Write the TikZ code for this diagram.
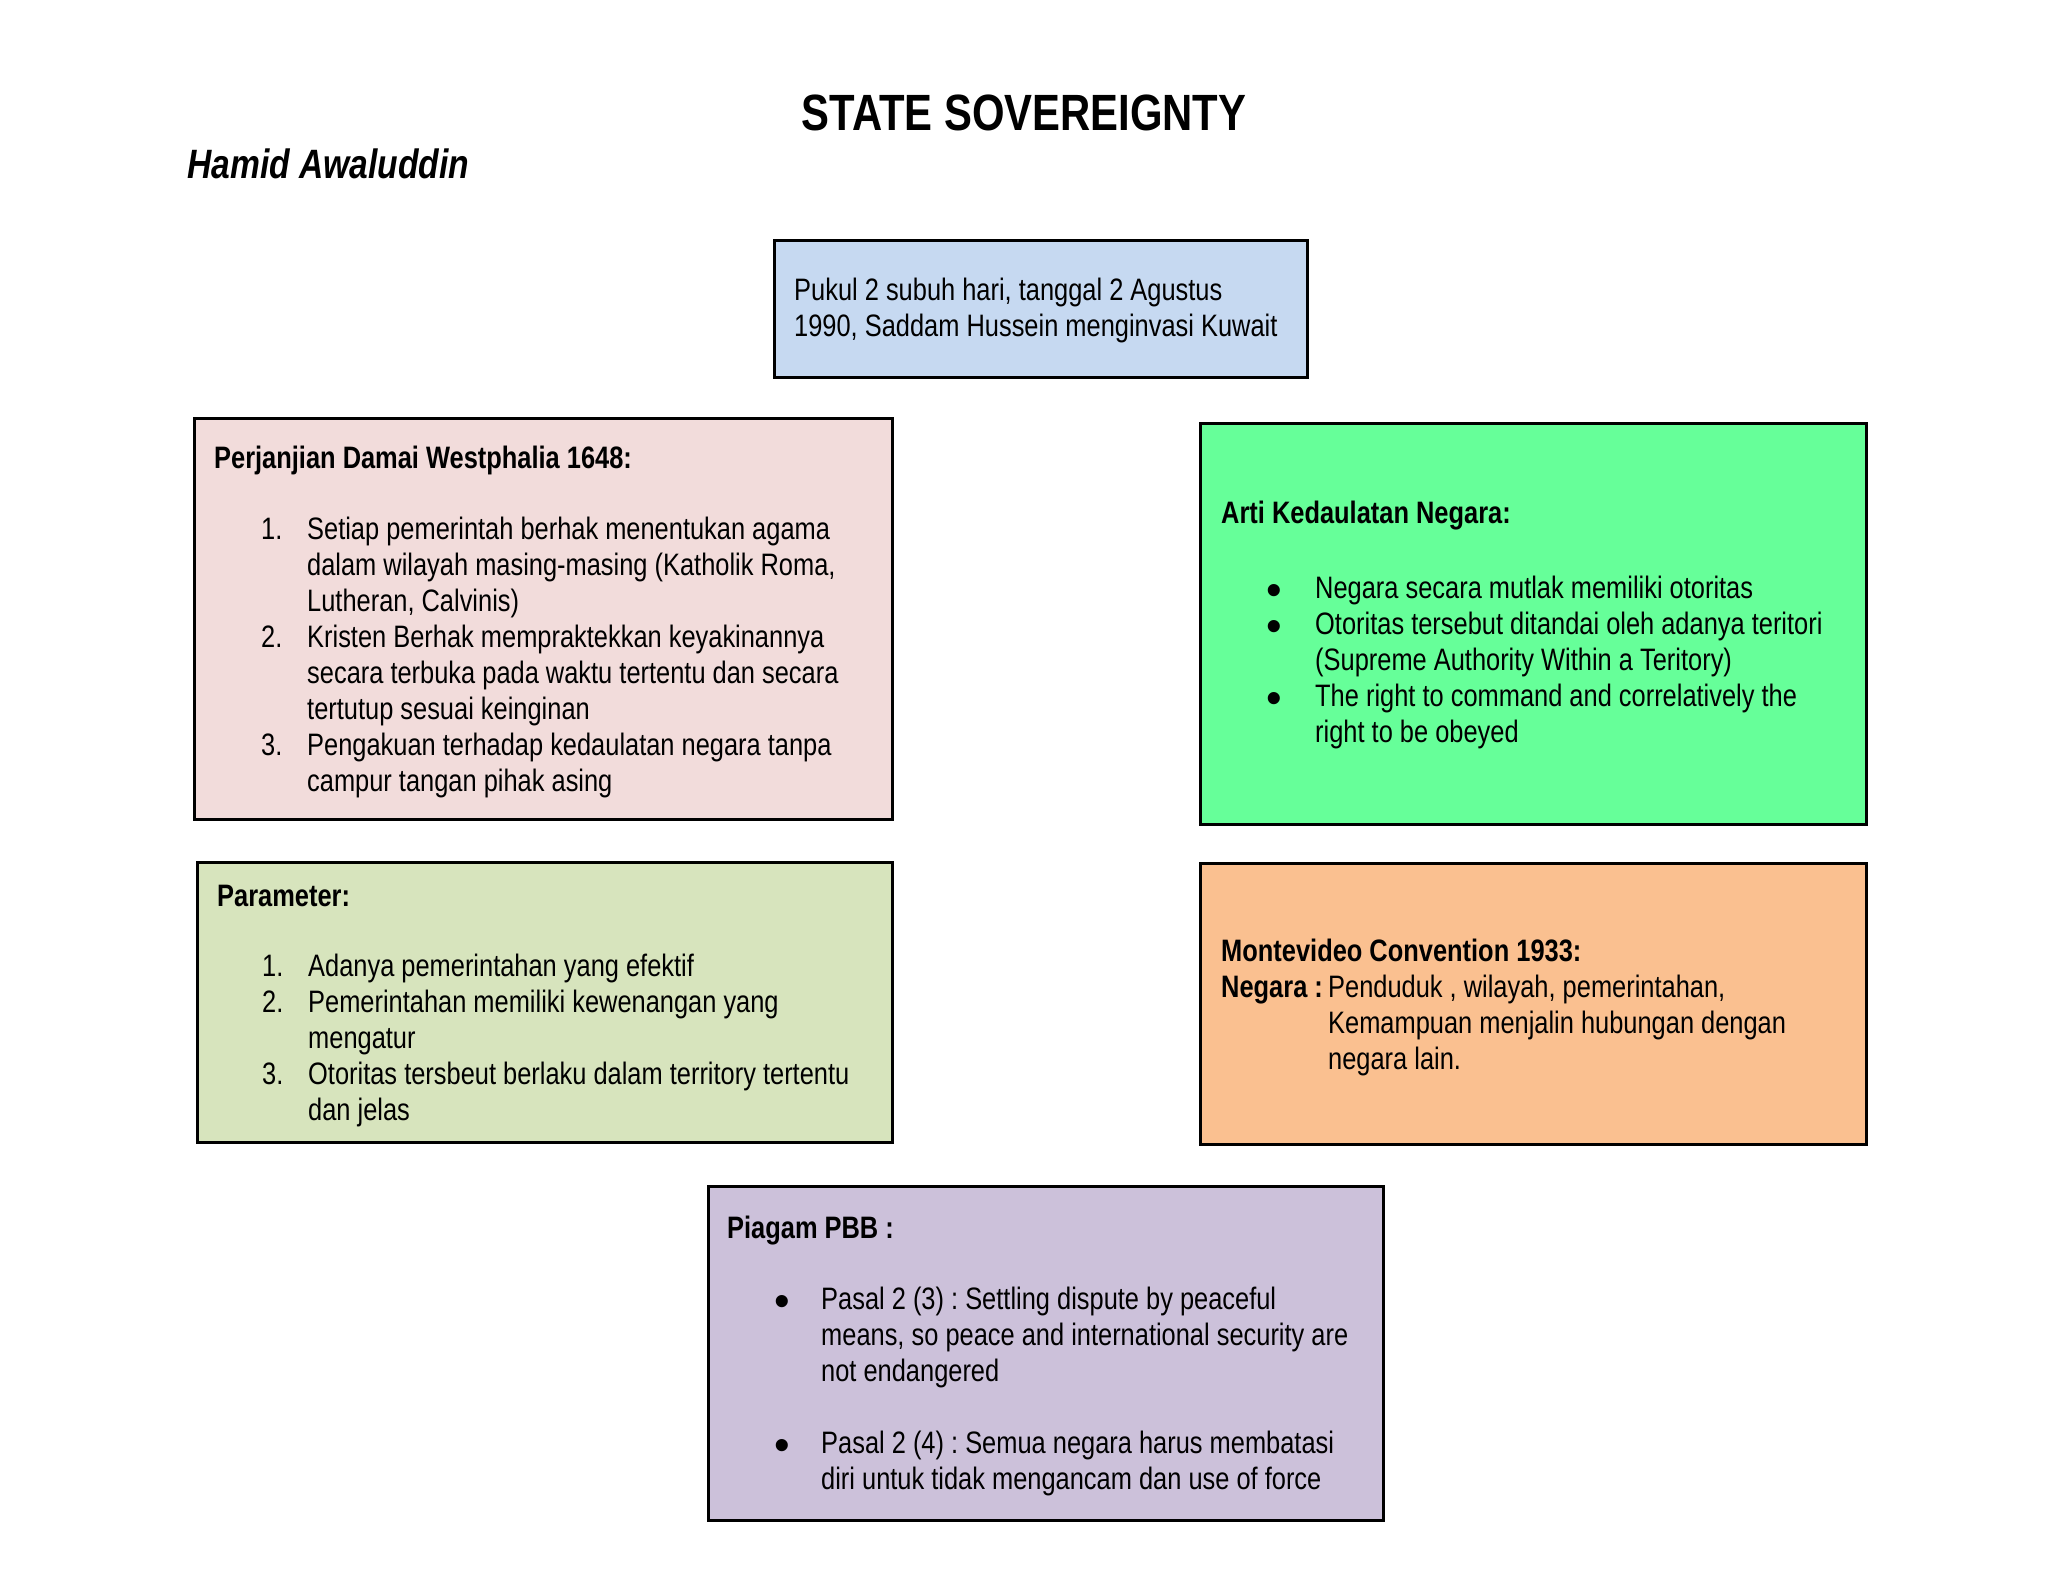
\documentclass[tikz,border=0pt]{standalone}
\usepackage{fontspec}
\usepackage{graphicx}
\setmainfont{Liberation Sans}[FakeStretch=0.82]
\definecolor{cblue}{HTML}{C6D9F1}
\definecolor{cpink}{HTML}{F2DCDB}
\definecolor{cgreen}{HTML}{66FF99}
\definecolor{colive}{HTML}{D7E4BD}
\definecolor{corange}{HTML}{FAC090}
\definecolor{cpurple}{HTML}{CCC1DA}
\newcommand{\mybullet}{\raisebox{-7.5pt}{\scalebox{1.75}[1.45]{\textbullet}}}
\begin{document}
\begin{tikzpicture}[x=1pt,y=-1pt,
  box/.style={draw=black, line width=2.5pt, inner sep=0pt, anchor=north west},
  txt/.style={anchor=base west, inner sep=0pt, font=\fontsize{31}{36}\selectfont\frenchspacing}]
\useasboundingbox[fill=white] (0,0) rectangle (2048,1582);

\node[anchor=base, inner sep=0pt, font=\fontsize{51}{60}\selectfont\bfseries] (title) at (1024,130) {STATE SOVEREIGNTY};
\node[anchor=base west, inner sep=0pt, font=\fontsize{41}{48}\selectfont\bfseries\itshape] (author) at (187,178) {Hamid Awaluddin};

% boxes
\node[box, fill=cblue, minimum width=533pt, minimum height=137pt] (event) at (773,239) {};
\node[box, fill=cpink, minimum width=698pt, minimum height=401pt] (west) at (193,417) {};
\node[box, fill=cgreen, minimum width=666pt, minimum height=401pt] (arti) at (1199,422) {};
\node[box, fill=colive, minimum width=695pt, minimum height=280pt] (param) at (196,861) {};
\node[box, fill=corange, minimum width=666pt, minimum height=281pt] (monte) at (1199,862) {};
\node[box, fill=cpurple, minimum width=675pt, minimum height=334pt] (piagam) at (707,1185) {};

% texts
\node[txt] (eventtext) at (794,300) {\begin{tabular}[t]{@{}l@{}}
Pukul 2 subuh hari, tanggal 2 Agustus\\
1990, Saddam Hussein menginvasi Kuwait
\end{tabular}};

\node[txt] (westtitle) at (214,468) {\textbf{Perjanjian Damai Westphalia 1648:}};
\node[txt] (westlist) at (261,539) {\begin{tabular}[t]{@{}p{46pt}@{}l@{}}
1. & Setiap pemerintah berhak menentukan agama\\
   & dalam wilayah masing-masing (Katholik Roma,\\
   & Lutheran, Calvinis)\\
2. & Kristen Berhak mempraktekkan keyakinannya\\
   & secara terbuka pada waktu tertentu dan secara\\
   & tertutup sesuai keinginan\\
3. & Pengakuan terhadap kedaulatan negara tanpa\\
   & campur tangan pihak asing
\end{tabular}};

\node[txt] (artititle) at (1221,523) {\textbf{Arti Kedaulatan Negara:}};
\node[txt] (artilist) at (1266,598) {\begin{tabular}[t]{@{}p{49pt}@{}l@{}}
\mybullet & Negara secara mutlak memiliki otoritas\\
\mybullet & Otoritas tersebut ditandai oleh adanya teritori\\
          & (Supreme Authority Within a Teritory)\\
\mybullet & The right to command and correlatively the\\
          & right to be obeyed
\end{tabular}};

\node[txt] (paramtitle) at (217,906) {\textbf{Parameter:}};
\node[txt] (paramlist) at (262,976) {\begin{tabular}[t]{@{}p{46pt}@{}l@{}}
1. & Adanya pemerintahan yang efektif\\
2. & Pemerintahan memiliki kewenangan yang\\
   & mengatur\\
3. & Otoritas tersbeut berlaku dalam territory tertentu\\
   & dan jelas
\end{tabular}};

\node[txt] (montetext) at (1221,961) {\begin{tabular}[t]{@{}p{107pt}@{}l@{}}
\multicolumn{2}{@{}l@{}}{\textbf{Montevideo Convention 1933:}}\\
\textbf{Negara :} & Penduduk , wilayah, pemerintahan,\\
                  & Kemampuan menjalin hubungan dengan\\
                  & negara lain.
\end{tabular}};

\node[txt] (piagamtitle) at (727,1238) {\textbf{Piagam PBB :}};
\node[txt] (piagamlist) at (774,1309) {\begin{tabular}[t]{@{}p{47pt}@{}l@{}}
\mybullet & Pasal 2 (3) : Settling dispute by peaceful\\
          & means, so peace and international security are\\
          & not endangered\\
          & \\
\mybullet & Pasal 2 (4) : Semua negara harus membatasi\\
          & diri untuk tidak mengancam dan use of force
\end{tabular}};
\end{tikzpicture}
\end{document}
